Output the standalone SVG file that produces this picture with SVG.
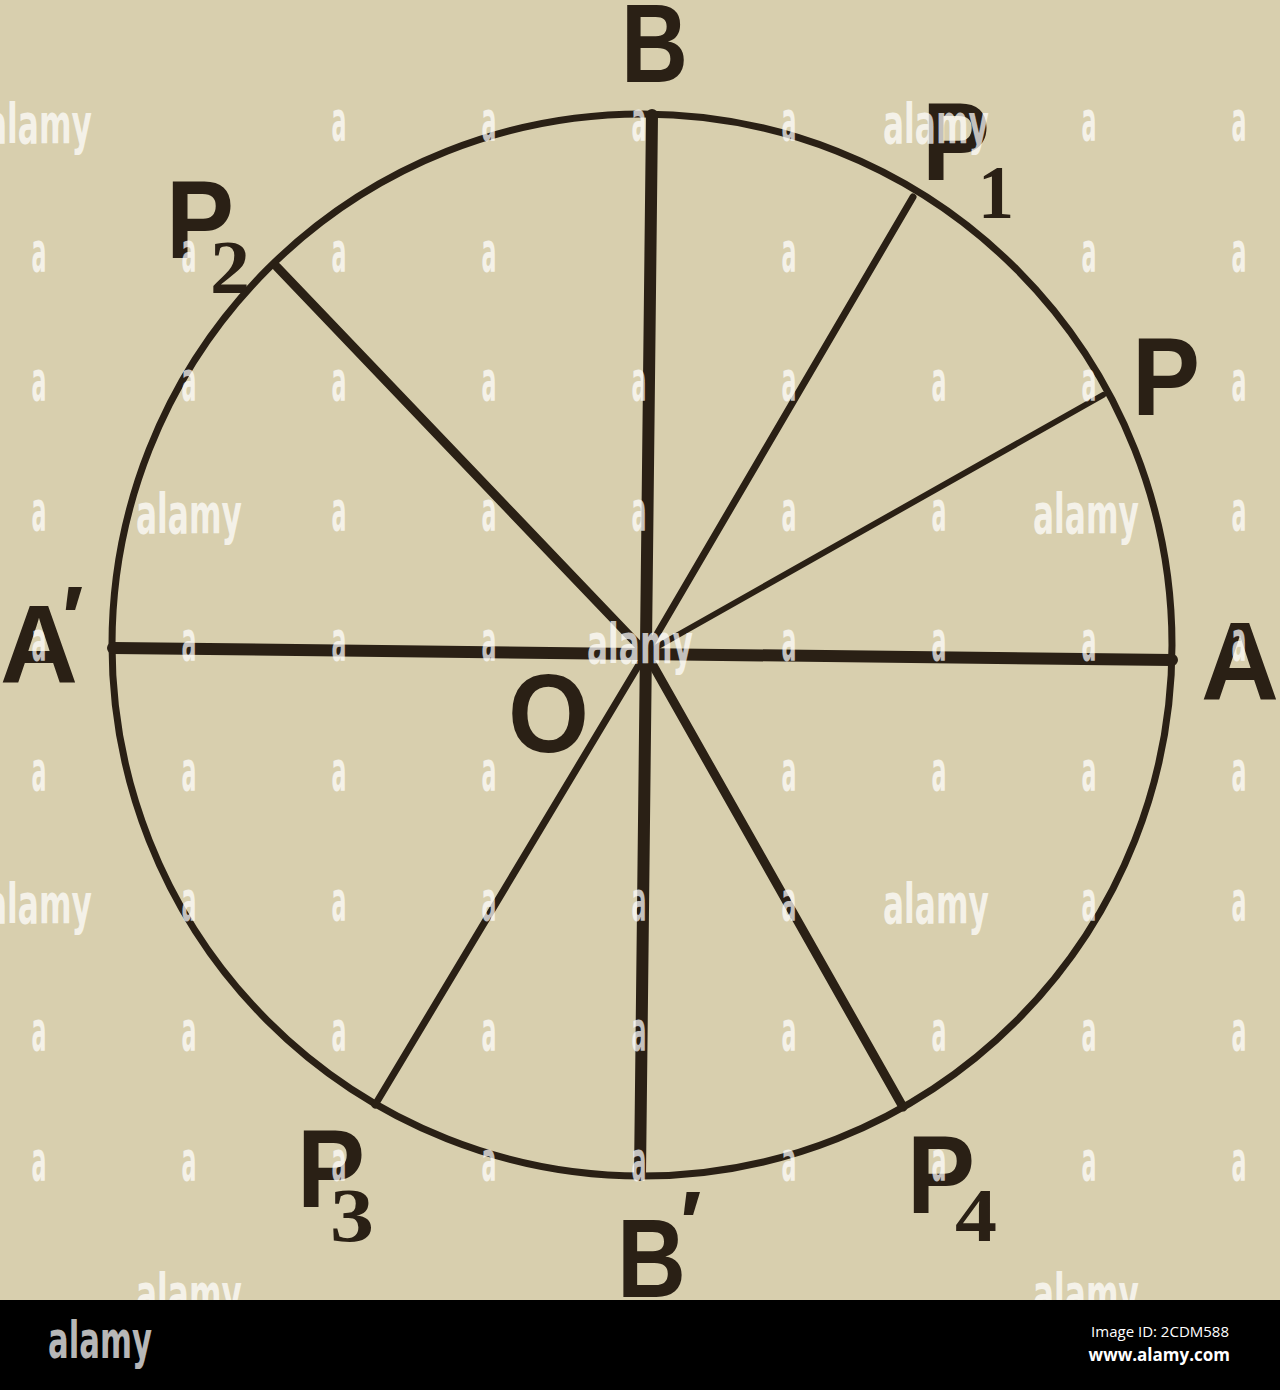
<svg xmlns="http://www.w3.org/2000/svg" width="1280" height="1390" viewBox="0 0 1280 1390">
<style>
.lbl{font-family:"Liberation Sans",Arial,sans-serif;font-weight:bold;fill:#2a2015}
.sub{font-family:"Liberation Serif","Times New Roman",serif;font-weight:bold;fill:#2a2015}
.ln{stroke:#2a2015;stroke-linecap:round;fill:none}
.wm{font-family:"Liberation Sans Narrow","DejaVu Sans Condensed","Liberation Sans",sans-serif;font-weight:bold;fill:#ffffff;fill-opacity:0.72}
.sa{text-anchor:middle}
.foot{font-family:"Open Sans","Noto Sans",sans-serif;fill:#ffffff}
</style>
<rect x="0" y="0" width="1280" height="1390" fill="#d8cfae"/>
<g id="connectors">
<ellipse class="ln" cx="642" cy="645" rx="530" ry="531" stroke-width="7"/>
<line class="ln" x1="113" y1="648" x2="1172" y2="660" stroke-width="12"/>
<line class="ln" x1="652" y1="115" x2="640" y2="1175" stroke-width="12"/>
<line class="ln" x1="646" y1="653" x2="1103" y2="395" stroke-width="6"/>
<line class="ln" x1="646" y1="653" x2="913" y2="197" stroke-width="7"/>
<line class="ln" x1="646" y1="653" x2="277" y2="267" stroke-width="9"/>
<line class="ln" x1="646" y1="653" x2="375" y2="1105" stroke-width="7"/>
<line class="ln" x1="646" y1="653" x2="903" y2="1107" stroke-width="9"/>
</g>
<g id="node-B"><text class="lbl" x="621" y="82" font-size="112" textLength="67" lengthAdjust="spacingAndGlyphs">B</text></g>
<g id="node-P1"><text class="lbl" x="922" y="180" font-size="112" textLength="68" lengthAdjust="spacingAndGlyphs">P</text><text class="sub" x="978" y="218" font-size="76" textLength="36" lengthAdjust="spacingAndGlyphs">1</text></g>
<g id="node-P2"><text class="lbl" x="166" y="258" font-size="112" textLength="68" lengthAdjust="spacingAndGlyphs">P</text><text class="sub" x="210" y="293" font-size="76" textLength="40" lengthAdjust="spacingAndGlyphs">2</text></g>
<g id="node-P"><text class="lbl" x="1132" y="415" font-size="112" textLength="68" lengthAdjust="spacingAndGlyphs">P</text></g>
<g id="node-A-prime"><text class="lbl" x="0" y="683" font-size="112" textLength="78" lengthAdjust="spacingAndGlyphs">A</text><text class="lbl" x="62" y="650" font-size="90" font-family="DejaVu Sans,sans-serif">′</text></g>
<g id="node-A"><text class="lbl" x="1201" y="700" font-size="112" textLength="78" lengthAdjust="spacingAndGlyphs">A</text></g>
<g id="node-O"><text class="lbl" x="508" y="752" font-size="112" textLength="81" lengthAdjust="spacingAndGlyphs">O</text></g>
<g id="node-P3"><text class="lbl" x="297" y="1207" font-size="112" textLength="68" lengthAdjust="spacingAndGlyphs">P</text><text class="sub" x="330" y="1241" font-size="76" textLength="44" lengthAdjust="spacingAndGlyphs">3</text></g>
<g id="node-B-prime"><text class="lbl" x="617" y="1297" font-size="112" textLength="69" lengthAdjust="spacingAndGlyphs">B</text><text class="lbl" x="680" y="1255" font-size="90" font-family="DejaVu Sans,sans-serif">′</text></g>
<g id="node-P4"><text class="lbl" x="907" y="1213" font-size="112" textLength="68" lengthAdjust="spacingAndGlyphs">P</text><text class="sub" x="955" y="1241" font-size="76" textLength="42" lengthAdjust="spacingAndGlyphs">4</text></g>
<g id="watermarks">
<text class="wm sa" x="39" y="143" font-size="56" textLength="106" lengthAdjust="spacingAndGlyphs">alamy</text>
<text class="wm sa" x="936" y="143" font-size="56" textLength="106" lengthAdjust="spacingAndGlyphs">alamy</text>
<text class="wm sa" x="189" y="533" font-size="56" textLength="106" lengthAdjust="spacingAndGlyphs">alamy</text>
<text class="wm sa" x="1086" y="533" font-size="56" textLength="106" lengthAdjust="spacingAndGlyphs">alamy</text>
<text class="wm sa" x="640" y="663" font-size="56" textLength="106" lengthAdjust="spacingAndGlyphs">alamy</text>
<text class="wm sa" x="39" y="923" font-size="56" textLength="106" lengthAdjust="spacingAndGlyphs">alamy</text>
<text class="wm sa" x="936" y="923" font-size="56" textLength="106" lengthAdjust="spacingAndGlyphs">alamy</text>
<text class="wm sa" x="189" y="1313" font-size="56" textLength="106" lengthAdjust="spacingAndGlyphs">alamy</text>
<text class="wm sa" x="1086" y="1313" font-size="56" textLength="106" lengthAdjust="spacingAndGlyphs">alamy</text>
<g font-size="56">
<text class="wm sa" x="339" y="140" textLength="15" lengthAdjust="spacingAndGlyphs">a</text>
<text class="wm sa" x="489" y="140" textLength="15" lengthAdjust="spacingAndGlyphs">a</text>
<text class="wm sa" x="639" y="140" textLength="15" lengthAdjust="spacingAndGlyphs">a</text>
<text class="wm sa" x="789" y="140" textLength="15" lengthAdjust="spacingAndGlyphs">a</text>
<text class="wm sa" x="1089" y="140" textLength="15" lengthAdjust="spacingAndGlyphs">a</text>
<text class="wm sa" x="1239" y="140" textLength="15" lengthAdjust="spacingAndGlyphs">a</text>
<text class="wm sa" x="39" y="271" textLength="15" lengthAdjust="spacingAndGlyphs">a</text>
<text class="wm sa" x="189" y="271" textLength="15" lengthAdjust="spacingAndGlyphs">a</text>
<text class="wm sa" x="339" y="271" textLength="15" lengthAdjust="spacingAndGlyphs">a</text>
<text class="wm sa" x="489" y="271" textLength="15" lengthAdjust="spacingAndGlyphs">a</text>
<text class="wm sa" x="789" y="271" textLength="15" lengthAdjust="spacingAndGlyphs">a</text>
<text class="wm sa" x="1089" y="271" textLength="15" lengthAdjust="spacingAndGlyphs">a</text>
<text class="wm sa" x="1239" y="271" textLength="15" lengthAdjust="spacingAndGlyphs">a</text>
<text class="wm sa" x="39" y="400" textLength="15" lengthAdjust="spacingAndGlyphs">a</text>
<text class="wm sa" x="189" y="400" textLength="15" lengthAdjust="spacingAndGlyphs">a</text>
<text class="wm sa" x="339" y="400" textLength="15" lengthAdjust="spacingAndGlyphs">a</text>
<text class="wm sa" x="489" y="400" textLength="15" lengthAdjust="spacingAndGlyphs">a</text>
<text class="wm sa" x="639" y="400" textLength="15" lengthAdjust="spacingAndGlyphs">a</text>
<text class="wm sa" x="789" y="400" textLength="15" lengthAdjust="spacingAndGlyphs">a</text>
<text class="wm sa" x="939" y="400" textLength="15" lengthAdjust="spacingAndGlyphs">a</text>
<text class="wm sa" x="1089" y="400" textLength="15" lengthAdjust="spacingAndGlyphs">a</text>
<text class="wm sa" x="1239" y="400" textLength="15" lengthAdjust="spacingAndGlyphs">a</text>
<text class="wm sa" x="39" y="530" textLength="15" lengthAdjust="spacingAndGlyphs">a</text>
<text class="wm sa" x="339" y="530" textLength="15" lengthAdjust="spacingAndGlyphs">a</text>
<text class="wm sa" x="489" y="530" textLength="15" lengthAdjust="spacingAndGlyphs">a</text>
<text class="wm sa" x="639" y="530" textLength="15" lengthAdjust="spacingAndGlyphs">a</text>
<text class="wm sa" x="789" y="530" textLength="15" lengthAdjust="spacingAndGlyphs">a</text>
<text class="wm sa" x="939" y="530" textLength="15" lengthAdjust="spacingAndGlyphs">a</text>
<text class="wm sa" x="1239" y="530" textLength="15" lengthAdjust="spacingAndGlyphs">a</text>
<text class="wm sa" x="39" y="660" textLength="15" lengthAdjust="spacingAndGlyphs">a</text>
<text class="wm sa" x="189" y="660" textLength="15" lengthAdjust="spacingAndGlyphs">a</text>
<text class="wm sa" x="339" y="660" textLength="15" lengthAdjust="spacingAndGlyphs">a</text>
<text class="wm sa" x="489" y="660" textLength="15" lengthAdjust="spacingAndGlyphs">a</text>
<text class="wm sa" x="789" y="660" textLength="15" lengthAdjust="spacingAndGlyphs">a</text>
<text class="wm sa" x="939" y="660" textLength="15" lengthAdjust="spacingAndGlyphs">a</text>
<text class="wm sa" x="1089" y="660" textLength="15" lengthAdjust="spacingAndGlyphs">a</text>
<text class="wm sa" x="1239" y="660" textLength="15" lengthAdjust="spacingAndGlyphs">a</text>
<text class="wm sa" x="39" y="790" textLength="15" lengthAdjust="spacingAndGlyphs">a</text>
<text class="wm sa" x="189" y="790" textLength="15" lengthAdjust="spacingAndGlyphs">a</text>
<text class="wm sa" x="339" y="790" textLength="15" lengthAdjust="spacingAndGlyphs">a</text>
<text class="wm sa" x="489" y="790" textLength="15" lengthAdjust="spacingAndGlyphs">a</text>
<text class="wm sa" x="789" y="790" textLength="15" lengthAdjust="spacingAndGlyphs">a</text>
<text class="wm sa" x="939" y="790" textLength="15" lengthAdjust="spacingAndGlyphs">a</text>
<text class="wm sa" x="1089" y="790" textLength="15" lengthAdjust="spacingAndGlyphs">a</text>
<text class="wm sa" x="1239" y="790" textLength="15" lengthAdjust="spacingAndGlyphs">a</text>
<text class="wm sa" x="189" y="920" textLength="15" lengthAdjust="spacingAndGlyphs">a</text>
<text class="wm sa" x="339" y="920" textLength="15" lengthAdjust="spacingAndGlyphs">a</text>
<text class="wm sa" x="489" y="920" textLength="15" lengthAdjust="spacingAndGlyphs">a</text>
<text class="wm sa" x="639" y="920" textLength="15" lengthAdjust="spacingAndGlyphs">a</text>
<text class="wm sa" x="789" y="920" textLength="15" lengthAdjust="spacingAndGlyphs">a</text>
<text class="wm sa" x="1089" y="920" textLength="15" lengthAdjust="spacingAndGlyphs">a</text>
<text class="wm sa" x="1239" y="920" textLength="15" lengthAdjust="spacingAndGlyphs">a</text>
<text class="wm sa" x="39" y="1050" textLength="15" lengthAdjust="spacingAndGlyphs">a</text>
<text class="wm sa" x="189" y="1050" textLength="15" lengthAdjust="spacingAndGlyphs">a</text>
<text class="wm sa" x="339" y="1050" textLength="15" lengthAdjust="spacingAndGlyphs">a</text>
<text class="wm sa" x="489" y="1050" textLength="15" lengthAdjust="spacingAndGlyphs">a</text>
<text class="wm sa" x="639" y="1050" textLength="15" lengthAdjust="spacingAndGlyphs">a</text>
<text class="wm sa" x="789" y="1050" textLength="15" lengthAdjust="spacingAndGlyphs">a</text>
<text class="wm sa" x="939" y="1050" textLength="15" lengthAdjust="spacingAndGlyphs">a</text>
<text class="wm sa" x="1089" y="1050" textLength="15" lengthAdjust="spacingAndGlyphs">a</text>
<text class="wm sa" x="1239" y="1050" textLength="15" lengthAdjust="spacingAndGlyphs">a</text>
<text class="wm sa" x="39" y="1180" textLength="15" lengthAdjust="spacingAndGlyphs">a</text>
<text class="wm sa" x="189" y="1180" textLength="15" lengthAdjust="spacingAndGlyphs">a</text>
<text class="wm sa" x="339" y="1180" textLength="15" lengthAdjust="spacingAndGlyphs">a</text>
<text class="wm sa" x="489" y="1180" textLength="15" lengthAdjust="spacingAndGlyphs">a</text>
<text class="wm sa" x="639" y="1180" textLength="15" lengthAdjust="spacingAndGlyphs">a</text>
<text class="wm sa" x="789" y="1180" textLength="15" lengthAdjust="spacingAndGlyphs">a</text>
<text class="wm sa" x="939" y="1180" textLength="15" lengthAdjust="spacingAndGlyphs">a</text>
<text class="wm sa" x="1089" y="1180" textLength="15" lengthAdjust="spacingAndGlyphs">a</text>
<text class="wm sa" x="1239" y="1180" textLength="15" lengthAdjust="spacingAndGlyphs">a</text>
</g>
</g>
<g id="footer">
<rect x="0" y="1300" width="1280" height="90" fill="#000000"/>
<text class="wm" x="48" y="1358" font-size="52" fill-opacity="1" textLength="104" lengthAdjust="spacingAndGlyphs">alamy</text>
<text class="foot" x="1229" y="1337" font-size="15" text-anchor="end" fill="#e6e6e6">Image ID: 2CDM588</text>
<text class="foot" x="1230" y="1361" font-size="17" font-weight="bold" text-anchor="end">www.alamy.com</text>
</g>
</svg>
